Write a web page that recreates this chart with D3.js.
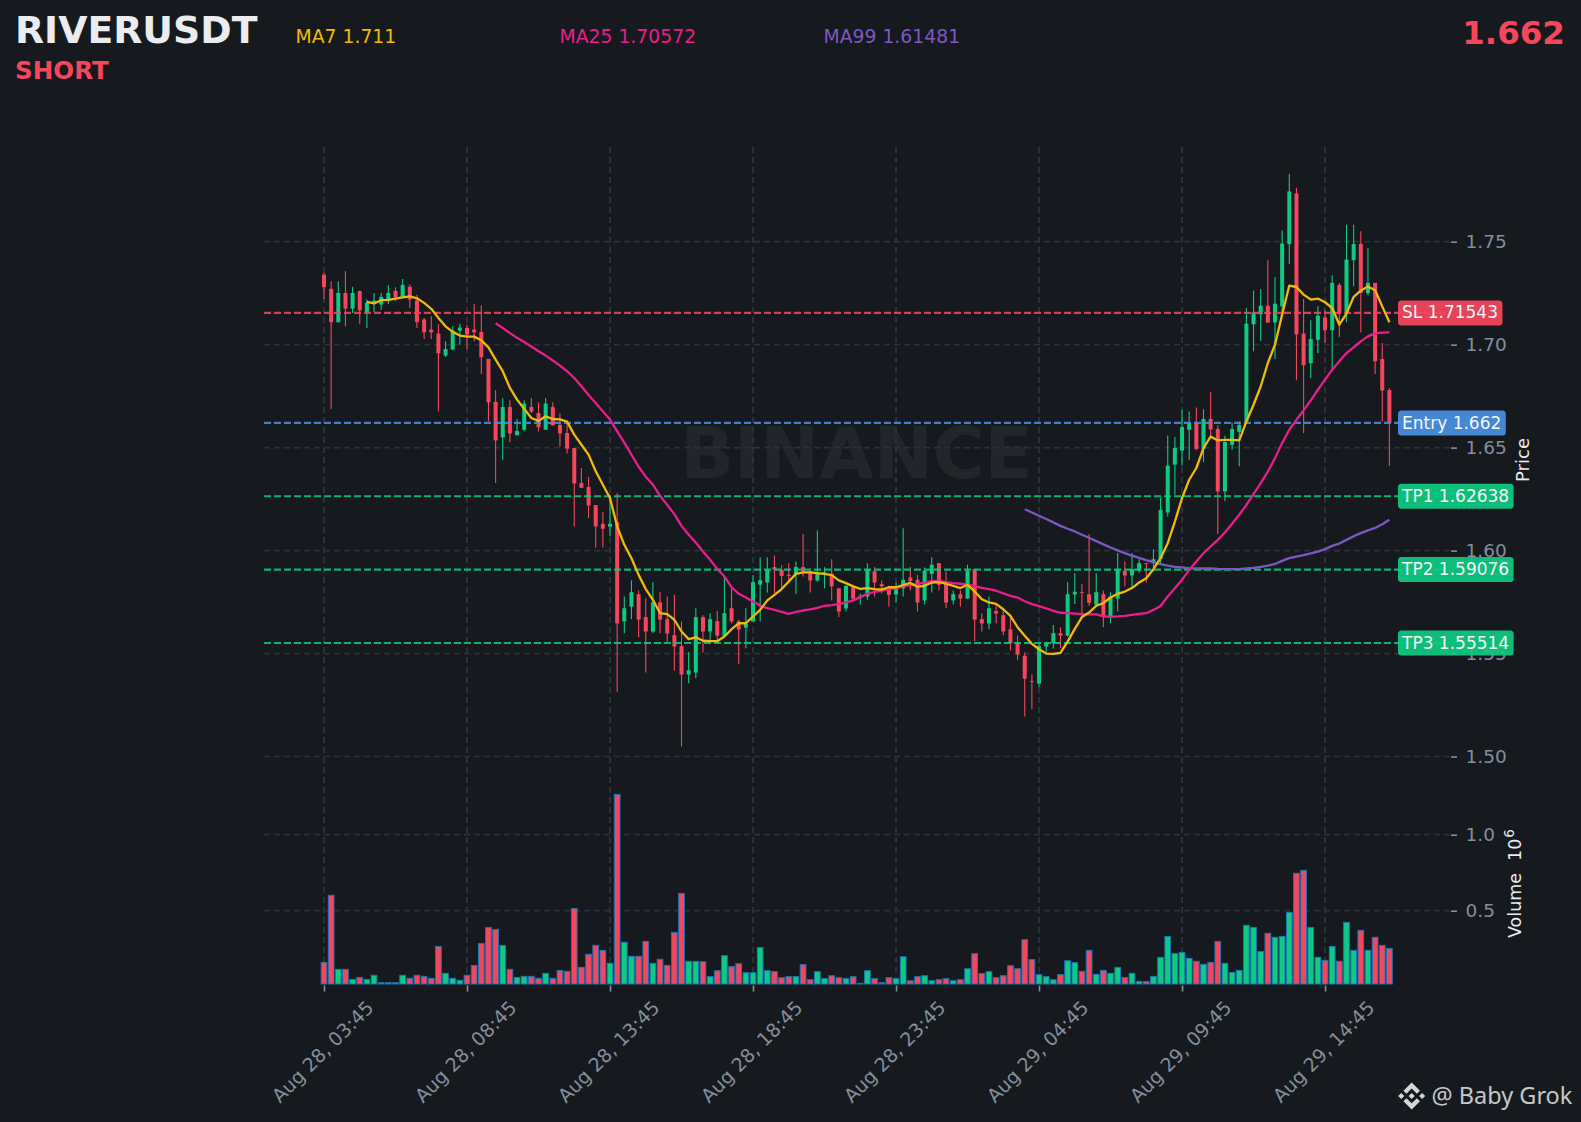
<!DOCTYPE html>
<html><head><meta charset="utf-8">
<script src="https://cdn.jsdelivr.net/npm/d3@7/dist/d3.min.js"></script>
<style>html,body{margin:0;padding:0;background:#161A1E}svg{display:block}text{font-family:"DejaVu Sans",sans-serif}</style>
</head><body><svg id="c" width="1581" height="1122"></svg>
<script>
const opens=[1.7340,1.7271,1.7109,1.7251,1.7175,1.7261,1.7157,1.7198,1.7195,1.7214,1.7261,1.7232,1.7281,1.7214,1.7122,1.7073,1.7054,1.6947,1.6976,1.7068,1.7081,1.7073,1.7062,1.6931,1.6722,1.6550,1.6697,1.6560,1.6587,1.6697,1.6668,1.6587,1.6697,1.6610,1.6571,1.6498,1.6328,1.6309,1.6221,1.6130,1.6116,1.6138,1.5656,1.5728,1.5788,1.5677,1.5607,1.5749,1.5667,1.5589,1.5536,1.5398,1.5408,1.5677,1.5607,1.5657,1.5586,1.5720,1.5656,1.5626,1.5656,1.5835,1.5845,1.5920,1.5907,1.5882,1.5887,1.5920,1.5897,1.5855,1.5887,1.5887,1.5817,1.5719,1.5821,1.5769,1.5777,1.5900,1.5837,1.5822,1.5787,1.5816,1.5869,1.5858,1.5758,1.5887,1.5939,1.5839,1.5758,1.5788,1.5767,1.5910,1.5667,1.5646,1.5706,1.5686,1.5618,1.5550,1.5489,1.5367,1.5354,1.5534,1.5550,1.5599,1.5587,1.5787,1.5798,1.5788,1.5737,1.5788,1.5680,1.5767,1.5900,1.5879,1.5903,1.5939,1.5939,1.5960,1.6185,1.6417,1.6486,1.6587,1.6619,1.6494,1.6639,1.6590,1.6287,1.6514,1.6577,1.6627,1.7099,1.7147,1.7189,1.7108,1.7186,1.7488,1.7734,1.7054,1.6910,1.7024,1.7132,1.7070,1.7290,1.7154,1.7410,1.7489,1.7250,1.7300,1.6930,1.6780];
const closes=[1.7279,1.7109,1.7251,1.7175,1.7251,1.7166,1.7203,1.7214,1.7232,1.7251,1.7230,1.7290,1.7219,1.7109,1.7060,1.7060,1.6958,1.6979,1.7068,1.7083,1.7049,1.7060,1.6939,1.6720,1.6535,1.6697,1.6569,1.6581,1.6714,1.6675,1.6599,1.6714,1.6608,1.6569,1.6495,1.6326,1.6305,1.6219,1.6117,1.6106,1.6130,1.5646,1.5720,1.5798,1.5665,1.5607,1.5749,1.5665,1.5597,1.5534,1.5398,1.5419,1.5677,1.5607,1.5667,1.5587,1.5696,1.5656,1.5617,1.5644,1.5847,1.5856,1.5907,1.5907,1.5877,1.5877,1.5920,1.5899,1.5855,1.5894,1.5894,1.5826,1.5704,1.5829,1.5766,1.5780,1.5910,1.5845,1.5826,1.5785,1.5826,1.5858,1.5852,1.5748,1.5902,1.5931,1.5834,1.5748,1.5788,1.5767,1.5902,1.5665,1.5646,1.5720,1.5694,1.5607,1.5550,1.5495,1.5378,1.5364,1.5537,1.5550,1.5599,1.5587,1.5788,1.5800,1.5795,1.5746,1.5798,1.5680,1.5777,1.5910,1.5879,1.5910,1.5939,1.5936,1.5958,1.6198,1.6412,1.6498,1.6600,1.6619,1.6494,1.6639,1.6588,1.6287,1.6527,1.6590,1.6610,1.7102,1.7157,1.7189,1.7108,1.7199,1.7491,1.7744,1.7050,1.6900,1.7028,1.7141,1.7070,1.7300,1.7154,1.7413,1.7489,1.7251,1.7300,1.6919,1.6778,1.6620];
const highs=[1.7349,1.7308,1.7308,1.7357,1.7281,1.7261,1.7219,1.7251,1.7251,1.7289,1.7279,1.7319,1.7292,1.7242,1.7130,1.7138,1.7099,1.7017,1.7089,1.7101,1.7097,1.7198,1.7190,1.6931,1.6780,1.6741,1.6730,1.6639,1.6730,1.6741,1.6720,1.6741,1.6720,1.6668,1.6620,1.6498,1.6401,1.6357,1.6221,1.6187,1.6266,1.6279,1.5777,1.5855,1.5806,1.5769,1.5847,1.5798,1.5777,1.5785,1.5656,1.5506,1.5720,1.5686,1.5696,1.5706,1.5874,1.5816,1.5664,1.5720,1.5882,1.5968,1.5968,1.5976,1.5929,1.5939,1.5947,1.6080,1.5903,1.6098,1.5920,1.5958,1.5817,1.5830,1.5834,1.5790,1.5939,1.5920,1.5855,1.5829,1.5845,1.6109,1.5920,1.5881,1.5918,1.5968,1.5939,1.5899,1.5806,1.5806,1.5931,1.5910,1.5696,1.5777,1.5737,1.5712,1.5688,1.5587,1.5505,1.5398,1.5550,1.5558,1.5638,1.5628,1.5847,1.5890,1.5837,1.6080,1.5890,1.5806,1.5798,1.5988,1.5947,1.5988,1.5958,1.5939,1.6007,1.6255,1.6559,1.6551,1.6684,1.6676,1.6695,1.6687,1.6770,1.6608,1.6558,1.6619,1.6627,1.7178,1.7262,1.7270,1.7410,1.7329,1.7554,1.7830,1.7762,1.7222,1.7118,1.7186,1.7170,1.7337,1.7300,1.7582,1.7582,1.7551,1.7470,1.7300,1.7008,1.6789];
const lows=[1.7222,1.6688,1.7109,1.7089,1.7154,1.7101,1.7081,1.7159,1.7170,1.7198,1.7211,1.7227,1.7178,1.7081,1.7028,1.7028,1.6676,1.6940,1.6976,1.6999,1.6979,1.7017,1.6858,1.6628,1.6328,1.6441,1.6526,1.6560,1.6579,1.6668,1.6579,1.6587,1.6607,1.6506,1.6471,1.6117,1.6305,1.6158,1.6015,1.6015,1.6069,1.5315,1.5599,1.5667,1.5579,1.5408,1.5599,1.5599,1.5550,1.5417,1.5048,1.5356,1.5380,1.5505,1.5563,1.5566,1.5586,1.5647,1.5448,1.5526,1.5656,1.5657,1.5796,1.5793,1.5817,1.5842,1.5788,1.5874,1.5796,1.5847,1.5817,1.5758,1.5677,1.5704,1.5753,1.5737,1.5761,1.5777,1.5793,1.5728,1.5748,1.5777,1.5806,1.5704,1.5738,1.5796,1.5806,1.5720,1.5738,1.5728,1.5766,1.5560,1.5607,1.5618,1.5647,1.5589,1.5515,1.5468,1.5194,1.5229,1.5336,1.5506,1.5524,1.5526,1.5583,1.5740,1.5680,1.5732,1.5728,1.5628,1.5647,1.5704,1.5826,1.5821,1.5890,1.5845,1.5899,1.5940,1.6166,1.6271,1.6412,1.6441,1.6486,1.6430,1.6546,1.6081,1.6240,1.6490,1.6409,1.6627,1.6968,1.7018,1.7105,1.6930,1.7146,1.7392,1.6827,1.6571,1.6838,1.6960,1.7008,1.6871,1.7037,1.7109,1.7284,1.7060,1.7240,1.6858,1.6627,1.6412];
const volumes=[.160,.601,.114,.114,.048,.061,.048,.075,.026,.026,.026,.075,.055,.075,.068,.055,.265,.088,.055,.042,.075,.140,.285,.390,.377,.272,.114,.061,.068,.068,.055,.088,.055,.107,.101,.515,.127,.213,.272,.239,.154,1.265,.292,.200,.200,.298,.154,.180,.140,.357,.614,.167,.167,.164,.066,.105,.204,.132,.151,.092,.092,.257,.105,.099,.059,.066,.066,.145,.046,.099,.053,.072,.059,.053,.066,.022,.105,.053,.026,.059,.053,.197,.039,.066,.072,.039,.046,.053,.039,.046,.118,.217,.086,.099,.059,.072,.138,.118,.309,.178,.079,.066,.046,.079,.171,.158,.101,.239,.081,.107,.088,.127,.061,.088,.035,.033,.068,.193,.331,.219,.226,.186,.167,.147,.160,.298,.154,.094,.107,.404,.390,.232,.351,.325,.331,.489,.746,.765,.390,.193,.173,.265,.167,.423,.239,.371,.239,.325,.272,.252];
const ma7Start=6;
const ma7Values=[1.7208,1.7200,1.7216,1.7217,1.7224,1.7230,1.7235,1.7225,1.7203,1.7174,1.7130,1.7089,1.7062,1.7044,1.7039,1.7039,1.7021,1.6987,1.6927,1.6871,1.6790,1.6733,1.6688,1.6644,1.6629,1.6652,1.6639,1.6637,1.6626,1.6563,1.6514,1.6466,1.6385,1.6320,1.6255,1.6117,1.6028,1.5963,1.5882,1.5813,1.5761,1.5696,1.5691,1.5664,1.5607,1.5570,1.5579,1.5562,1.5560,1.5560,1.5583,1.5618,1.5647,1.5647,1.5680,1.5712,1.5758,1.5785,1.5813,1.5850,1.5887,1.5894,1.5894,1.5890,1.5887,1.5881,1.5855,1.5842,1.5826,1.5814,1.5818,1.5813,1.5811,1.5822,1.5822,1.5832,1.5843,1.5824,1.5829,1.5845,1.5847,1.5839,1.5829,1.5818,1.5834,1.5801,1.5764,1.5748,1.5741,1.5715,1.5683,1.5628,1.5586,1.5547,1.5521,1.5500,1.5498,1.5503,1.5558,1.5620,1.5677,1.5699,1.5732,1.5745,1.5772,1.5790,1.5801,1.5818,1.5845,1.5866,1.5910,1.5963,1.6036,1.6141,1.6255,1.6344,1.6401,1.6498,1.6554,1.6535,1.6538,1.6538,1.6535,1.6627,1.6708,1.6797,1.6911,1.7000,1.7146,1.7287,1.7280,1.7243,1.7219,1.7224,1.7206,1.7178,1.7097,1.7151,1.7232,1.7262,1.7283,1.7264,1.7186,1.7109];
const ma25Start=24;
const ma25Values=[1.7104,1.7081,1.7056,1.7033,1.7013,1.6991,1.6968,1.6947,1.6923,1.6898,1.6871,1.6838,1.6798,1.6756,1.6717,1.6676,1.6636,1.6579,1.6524,1.6466,1.6407,1.6359,1.6320,1.6266,1.6222,1.6177,1.6120,1.6077,1.6039,1.5996,1.5955,1.5911,1.5874,1.5822,1.5790,1.5772,1.5753,1.5733,1.5720,1.5712,1.5702,1.5693,1.5702,1.5709,1.5714,1.5722,1.5732,1.5735,1.5740,1.5748,1.5758,1.5774,1.5790,1.5800,1.5806,1.5813,1.5818,1.5826,1.5832,1.5837,1.5845,1.5852,1.5853,1.5847,1.5842,1.5839,1.5835,1.5827,1.5819,1.5813,1.5805,1.5792,1.5780,1.5772,1.5754,1.5740,1.5730,1.5719,1.5707,1.5698,1.5696,1.5694,1.5691,1.5690,1.5690,1.5681,1.5678,1.5680,1.5683,1.5688,1.5693,1.5696,1.5712,1.5731,1.5777,1.5817,1.5858,1.5906,1.5947,1.5987,1.6020,1.6052,1.6088,1.6130,1.6174,1.6222,1.6274,1.6328,1.6384,1.6449,1.6522,1.6587,1.6635,1.6681,1.6729,1.6781,1.6830,1.6878,1.6919,1.6959,1.6987,1.7016,1.7040,1.7055,1.7058,1.7060];
const ma99Start=98;
const ma99Values=[1.6201,1.6185,1.6169,1.6153,1.6137,1.6120,1.6106,1.6093,1.6077,1.6062,1.6046,1.6030,1.6015,1.6001,1.5988,1.5975,1.5965,1.5954,1.5944,1.5934,1.5927,1.5921,1.5918,1.5914,1.5913,1.5913,1.5913,1.5911,1.5910,1.5910,1.5910,1.5913,1.5916,1.5921,1.5927,1.5935,1.5950,1.5963,1.5971,1.5978,1.5986,1.5995,1.6007,1.6023,1.6034,1.6052,1.6070,1.6085,1.6098,1.6110,1.6128,1.6150];
const xTickIndex=[0,20,40,60,80,100,120,140];
const xTickLabels=["Aug 28, 03:45","Aug 28, 08:45","Aug 28, 13:45","Aug 28, 18:45","Aug 28, 23:45","Aug 29, 04:45","Aug 29, 09:45","Aug 29, 14:45"];
const priceTicks=[1.50,1.55,1.60,1.65,1.70,1.75];
const volumeTicks=[0.5,1.0];
const levelNames=["SL","Entry","TP1","TP2","TP3"];
const levelValues=[1.71543,1.662,1.62638,1.59076,1.55514];
const levelLabels=["SL 1.71543","Entry 1.662","TP1 1.62638","TP2 1.59076","TP3 1.55514"];

const UP="#0ECB81",DOWN="#F6465D",GRID="#2B3139",AX="#848E9C",TXT="#EAECEF";
const levelColor={SL:"#F6465D",Entry:"#4A90E2",TP1:"#0ECB81",TP2:"#0ECB81",TP3:"#0ECB81"};
const svg=d3.select("#c");
svg.append("rect").attr("width",1581).attr("height",1122).attr("fill","#161A1E");
const x=d3.scaleLinear().domain([0,149]).range([324,1389.4]);
const yP=d3.scaleLinear().domain([1.5,1.75]).range([756.5,241.7]);
const yV=d3.scaleLinear().domain([0,1]).range([986.7,834.7]);
const plotL=264,plotR=1451,plotT=147,plotB=984;

svg.append("text").attr("x",856.5).attr("y",478).attr("text-anchor","middle").attr("font-size",70.5).attr("font-weight","bold").attr("fill","#22262B").text("BINANCE");

// grid
const g=svg.append("g");
g.selectAll(".v").data(xTickIndex).join("line").attr("x1",d=>x(d)).attr("x2",d=>x(d)).attr("y1",plotT).attr("y2",plotB).attr("stroke",GRID).attr("stroke-width",2).attr("stroke-dasharray","6 4");
g.selectAll(".p").data(priceTicks).join("line").attr("x1",plotL).attr("x2",plotR).attr("y1",d=>yP(d)).attr("y2",d=>yP(d)).attr("stroke",GRID).attr("stroke-width",1.7).attr("stroke-dasharray","6 4");
g.selectAll(".w").data(volumeTicks).join("line").attr("x1",plotL).attr("x2",plotR).attr("y1",d=>yV(d)).attr("y2",d=>yV(d)).attr("stroke",GRID).attr("stroke-width",1.7).attr("stroke-dasharray","6 4");

// axes
function styleAxis(s){s.select(".domain").remove();s.selectAll(".tick line").attr("stroke",AX).attr("stroke-width",1.6);s.selectAll(".tick text").attr("fill",AX).attr("font-size",18.5).attr("font-family",'"DejaVu Sans"');}
svg.append("g").attr("transform",`translate(${plotR},0)`).call(d3.axisRight(yP).tickValues(priceTicks).tickFormat(d3.format(".2f")).tickSize(6).tickPadding(8.5)).call(styleAxis);
svg.append("g").attr("transform",`translate(${plotR},0)`).call(d3.axisRight(yV).tickValues(volumeTicks).tickFormat(d3.format(".1f")).tickSize(6).tickPadding(8.5)).call(styleAxis);
const xa=svg.append("g").attr("transform",`translate(0,${plotB+1.5})`).call(d3.axisBottom(x).tickValues(xTickIndex).tickFormat((d,i)=>xTickLabels[i]).tickSize(6)).call(styleAxis);
xa.selectAll(".tick text").attr("text-anchor","middle").attr("dy",null).attr("y",0).attr("font-size",19).attr("transform","translate(-1,67) rotate(-45)").attr("dominant-baseline","middle");

// volume
const idx=d3.range(opens.length);
const bw=5.7;
svg.append("g").selectAll("rect").data(idx).join("rect")
 .attr("x",i=>x(i)-bw/2).attr("width",bw)
 .attr("y",i=>yV(volumes[i])).attr("height",i=>Math.max(0,plotB-yV(volumes[i])))
 .attr("fill",i=>closes[i]>=opens[i]?UP:DOWN).attr("stroke","#1A76B8").attr("stroke-width",1);

// candles
const cg=svg.append("g");
cg.selectAll("line").data(idx).join("line").attr("x1",i=>x(i)).attr("x2",i=>x(i)).attr("y1",i=>yP(highs[i])).attr("y2",i=>yP(lows[i]))
 .attr("stroke",i=>closes[i]>=opens[i]?UP:DOWN).attr("stroke-width",1.1);
cg.selectAll("rect").data(idx).join("rect").attr("x",i=>x(i)-2).attr("width",4)
 .attr("y",i=>yP(Math.max(opens[i],closes[i]))).attr("height",i=>Math.max(.8,Math.abs(yP(opens[i])-yP(closes[i]))))
 .attr("fill",i=>closes[i]>=opens[i]?UP:DOWN);

// level lines
const lv=svg.append("g");
lv.selectAll("line").data(levelValues).join("line").attr("x1",plotL).attr("x2",1443).attr("y1",d=>yP(d)).attr("y2",d=>yP(d))
 .attr("stroke",(d,i)=>levelColor[levelNames[i]]).attr("stroke-width",2.1).attr("stroke-dasharray","7 3").attr("opacity",.85);

// MAs
function maLine(vals,start,color){
 const ln=d3.line().x((d,i)=>x(i+start)).y(d=>yP(d));
 svg.append("path").attr("d",ln(vals)).attr("fill","none").attr("stroke",color).attr("stroke-width",2.3).attr("stroke-linejoin","round");
}
maLine(ma99Values,ma99Start,"#7E57C2");
maLine(ma25Values,ma25Start,"#E91E8C");
maLine(ma7Values,ma7Start,"#F0B90B");

// level labels
const lb=svg.append("g");
levelValues.forEach((v,i)=>{
 const yy=yP(v),c=levelColor[levelNames[i]];
 const t=lb.append("text").attr("x",1402).attr("y",yy+5.6).attr("font-size",17).attr("fill","#F4F5F7").text(levelLabels[i]);
 const w=t.node().getComputedTextLength();
 lb.insert("rect","text").attr("x",1398).attr("y",yy-12.5).attr("width",w+8.5).attr("height",25).attr("rx",3.5).attr("fill",c).attr("opacity",.92);
 t.raise();
});

// header
function label(x0,y0,s,size,fill,bold,anchor){svg.append("text").attr("x",x0).attr("y",y0).attr("font-size",size).attr("fill",fill).attr("font-weight",bold?"bold":"normal").attr("text-anchor",anchor||"start").text(s);}
label(15,43,"RIVERUSDT",37.8,TXT,true);
label(15,79,"SHORT",24.6,DOWN,true);
label(295.5,43,"MA7 1.711",18.8,"#F0B90B");
label(559.5,43,"MA25 1.70572",18.8,"#E91E8C");
label(823.5,43,"MA99 1.61481",18.8,"#7E57C2");
label(1565,43.5,"1.662",32.5,DOWN,true,"end");

// axis titles
svg.append("text").attr("transform","translate(1529,460) rotate(-90)").attr("text-anchor","middle").attr("font-size",18).attr("fill",TXT).text("Price");
const vt=svg.append("text").attr("transform","translate(1521,938) rotate(-90)").attr("font-size",17.5).attr("fill",TXT);
vt.append("tspan").text("Volume");
vt.append("tspan").attr("dx",12).text("10");
vt.append("tspan").attr("dy",-7).attr("dx",1).attr("font-size",13.5).text("6");

// credit
svg.append("path").attr("transform","translate(1398.2,1082.5) scale(0.213)").attr("fill","#D4D6D9")
 .attr("d","M38.73 53.2l24.59-24.58 24.6 24.6 14.3-14.31L63.32 0 24.43 38.9zM0 63.31l14.3-14.31 14.31 14.31-14.31 14.3zM38.73 73.41l24.59 24.59 24.6-24.6 14.31 14.29-38.9 38.91-38.91-38.88zM98 63.31l14.3-14.31 14.31 14.3-14.31 14.3zM77.83 63.3L63.32 48.78 48.81 63.28l14.51 14.5z");
svg.append("text").attr("x",1431.5).attr("y",1104).attr("font-size",23.5).attr("fill","#C4C7CB").attr("style",'font-family:"Noto Sans"').text("@ Baby Grok");
</script></body></html>
